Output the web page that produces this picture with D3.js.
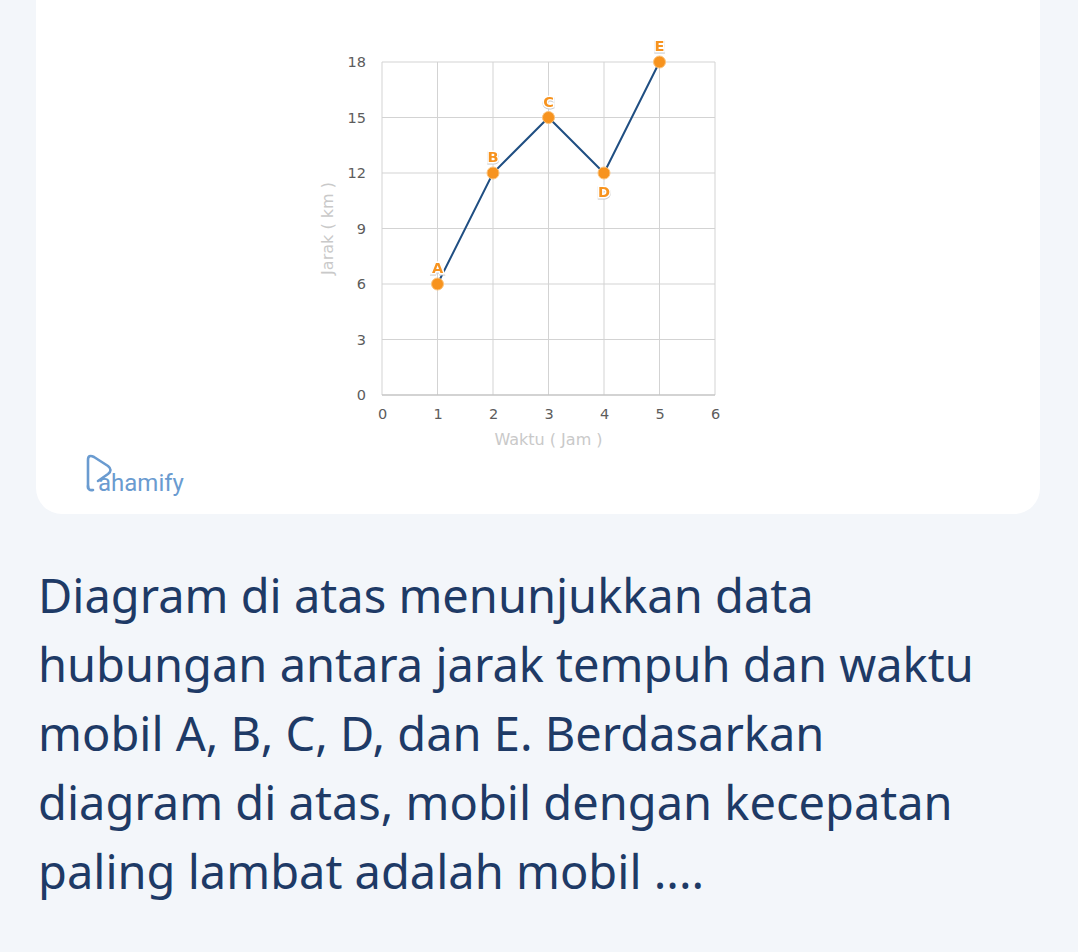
<!DOCTYPE html>
<html>
<head>
<meta charset="utf-8">
<script src="https://cdn.jsdelivr.net/npm/d3@7"></script>
<style>
  html, body { margin: 0; padding: 0; background: #f3f6fa; }
  svg { display: block; }
</style>
</head>
<body>
<svg id="chart" width="1078" height="952"></svg>
<script>
// data
var waktu = [1, 2, 3, 4, 5];
var jarak = [6, 12, 15, 12, 18];
var mobil = ['A', 'B', 'C', 'D', 'E'];
var labelPos = ['above', 'above', 'above', 'below', 'above'];
var xTicks = [0, 1, 2, 3, 4, 5, 6];
var yTicks = [0, 3, 6, 9, 12, 15, 18];
var soal = [
	'Diagram di atas menunjukkan data',
	'hubungan antara jarak tempuh dan waktu',
	'mobil A, B, C, D, dan E. Berdasarkan',
	'diagram di atas, mobil dengan kecepatan',
	'paling lambat adalah mobil ....'
];

var svg = d3.select('#chart');

// white card
svg.append('rect')
	.attr('x', 36).attr('y', -40)
	.attr('width', 1004).attr('height', 554)
	.attr('rx', 26)
	.style('fill', '#ffffff');

var x = d3.scaleLinear().domain([0, 6]).range([382, 715]);
var y = d3.scaleLinear().domain([0, 18]).range([395, 62]);

var chart = svg.append('g').style('font-family', 'Verdana, "DejaVu Sans", sans-serif');

// grid
chart.append('g').selectAll('line.v')
	.data(xTicks).enter().append('line')
	.attr('x1', function(d) { return x(d); })
	.attr('x2', function(d) { return x(d); })
	.attr('y1', y(0)).attr('y2', y(18))
	.style('stroke', '#d3d3d3').style('stroke-width', 1);

chart.append('g').selectAll('line.h')
	.data(yTicks).enter().append('line')
	.attr('x1', x(0)).attr('x2', x(6))
	.attr('y1', function(d) { return y(d); })
	.attr('y2', function(d) { return y(d); })
	.style('stroke', function(d) { return d == 0 ? '#c4c4c4' : '#d3d3d3'; })
	.style('stroke-width', function(d) { return d == 0 ? 1.5 : 1; });

// axes (tick labels only)
var xAxis = chart.append('g')
	.attr('transform', 'translate(0,' + y(0) + ')')
	.call(d3.axisBottom(x).tickValues(xTicks).tickFormat(d3.format('d')).tickSize(0).tickPadding(14));
var yAxis = chart.append('g')
	.attr('transform', 'translate(' + x(0) + ',0)')
	.call(d3.axisLeft(y).tickValues(yTicks).tickFormat(d3.format('d')).tickSize(0).tickPadding(16));

[xAxis, yAxis].forEach(function(a) {
	a.select('.domain').remove();
	a.selectAll('text')
		.style('font-family', '"DejaVu Sans", Verdana, sans-serif')
		.style('font-size', '14.5px')
		.style('fill', '#5c5c5c');
});

chart.append('text')
	.attr('x', x(3)).attr('y', 445)
	.attr('text-anchor', 'middle')
	.style('font-size', '16px')
	.style('fill', '#c9c9c9')
	.text('Waktu ( Jam )');

chart.append('text')
	.attr('transform', 'translate(333,' + y(9) + ') rotate(-90)')
	.attr('text-anchor', 'middle')
	.style('font-size', '16px')
	.style('fill', '#c9c9c9')
	.text('Jarak ( km )');

// line
var line = d3.line()
	.x(function(d, i) { return x(waktu[i]); })
	.y(function(d) { return y(d); });

chart.append('path')
	.datum(jarak)
	.attr('d', line)
	.style('fill', 'none')
	.style('stroke', '#1f4e82')
	.style('stroke-width', 2);

// markers
chart.append('g').selectAll('circle')
	.data(jarak).enter().append('circle')
	.attr('cx', function(d, i) { return x(waktu[i]); })
	.attr('cy', function(d) { return y(d); })
	.attr('r', 6)
	.style('fill', '#f7931e')
	.style('stroke', '#fbc27a')
	.style('stroke-width', 1);

// data labels
chart.append('g').selectAll('text')
	.data(jarak).enter().append('text')
	.attr('x', function(d, i) { return x(waktu[i]); })
	.attr('y', function(d, i) {
		return labelPos[i] == 'above' ? y(d) - 11 : y(d) + 24;
	})
	.attr('text-anchor', 'middle')
	.style('font-family', '"DejaVu Sans", Verdana, sans-serif')
	.style('font-size', '14.5px')
	.style('font-weight', 'bold')
	.style('fill', '#f7931e')
	.style('stroke', '#ffffff')
	.style('stroke-width', 3)
	.style('paint-order', 'stroke')
	.style('filter', 'drop-shadow(0px 1.5px 0px #c8c8c8)')
	.text(function(d, i) { return mobil[i]; });

// logo
var logo = svg.append('g')
	.style('fill', 'none')
	.style('stroke', '#6a9bd0')
	.style('stroke-width', 2.6)
	.style('stroke-linecap', 'round')
	.style('stroke-linejoin', 'round');
logo.append('path')
	.attr('d', 'M88,488 L88,460 Q88,454 94,457 L108,466 Q113,470 108,474 L98,481');
logo.append('path')
	.attr('d', 'M88,486 Q88,491 93,490');
logo.append('text')
	.attr('x', 98).attr('y', 491)
	.style('font-family', 'Roboto, sans-serif')
	.style('font-size', '24px')
	.style('stroke', 'none')
	.style('fill', '#6a9bd0')
	.text('ahamify');

// question text
svg.append('g').selectAll('text')
	.data(soal).enter().append('text')
	.attr('x', 38)
	.attr('y', function(d, i) { return 613 + i * 69; })
	.style('font-family', '"Noto Sans", sans-serif')
	.style('font-size', '47px')
	.style('fill', '#1e3a66')
	.text(function(d) { return d; });
</script>
</body>
</html>
